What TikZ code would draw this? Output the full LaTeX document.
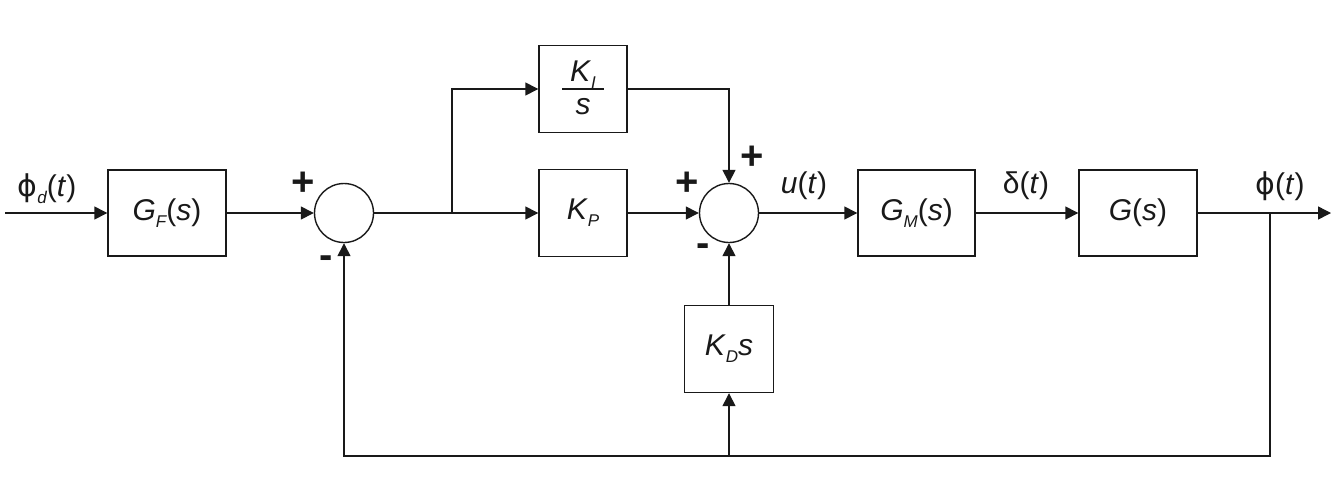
\documentclass[tikz,border=0pt]{standalone}
\usepackage{fontspec}
\setmainfont{Liberation Sans}
\newfontfamily\dejavu{DejaVu Sans}
\usetikzlibrary{arrows.meta}
\newcommand{\mysub}[1]{\raisebox{-7pt}{\fontsize{17}{17}\selectfont\itshape #1}}
\newcommand{\vphi}{{\dejavu ϕ}}
\tikzset{
  x=1pt, y=-1pt,
  every path/.style={line width=1.4pt, color=black!90},
  arr/.style={-{Triangle[length=13pt,width=13pt]}},
  blk/.style={draw, line width=1.4pt, rectangle, inner sep=0pt, font=\fontsize{30}{33}\selectfont},
  sumj/.style={draw, line width=1.4pt, circle, minimum size=59pt, inner sep=0pt},
  lbl/.style={font=\fontsize{30}{33}\selectfont, inner sep=0pt},
  sgn/.style={font=\fontsize{40}{40}\selectfont\bfseries, inner sep=0pt},
}
\begin{document}
\begin{tikzpicture}
\useasboundingbox (0,0) rectangle (1335,477);
% blocks
\node[blk, minimum width=118pt, minimum height=86pt] (GF) at (167,213) {\textit{G}\mysub{F}(\textit{s})};
\node[blk, minimum width=88pt, minimum height=87pt] (KI) at (583,89) {};
\node[blk, minimum width=88pt, minimum height=87pt] (KP) at (583,213) {\textit{K}\mysub{P}};
\node[blk, minimum width=117pt, minimum height=86pt] (GM) at (916.5,213) {\textit{G}\mysub{M}(\textit{s})};
\node[blk, minimum width=118pt, minimum height=86pt] (G) at (1138,213) {\textit{G}(\textit{s})};
\node[blk, minimum width=89pt, minimum height=87pt] (KD) at (729,349) {\textit{K}\mysub{D}\textit{s}};
\node[sumj] (S1) at (344,213) {};
\node[sumj] (S2) at (729,213) {};
% K_I / s fraction
\node[lbl, anchor=base] (KInum) at (583,81) {\textit{K}\mysub{I}};
\node[lbl, anchor=base] (KIden) at (583,114) {\textit{s}};
\draw[line width=1.2pt] (562,89) -- (604,89);
% coordinates
\coordinate (in) at (5,213);
\coordinate (j1) at (452,213);
\coordinate (tap) at (1270,213);
\coordinate (out) at (1331,213);
\coordinate (bot) at (1270,456);
\coordinate (bkd) at (729,456);
% connectors
\draw[arr] (in) -- (GF);
\draw[arr] (GF) -- (S1);
\draw (S1) -- (j1);
\draw[arr] (j1) -- (KP);
\draw[arr] (j1) |- (KI);
\draw[arr] (KI) -| (S2);
\draw[arr] (KP) -- (S2);
\draw[arr] (S2) -- (GM);
\draw[arr] (GM) -- (G);
\draw[arr] (G) -- (out);
\draw[arr] (tap) -- (bot) -| (S1);
\draw[arr] (bkd) -- (KD);
\draw[arr] (KD) -- (S2);
% labels
\node[lbl] (phid) at (47,189) {\vphi\mysub{d}(\textit{t})};
\node[lbl] (ut) at (804,186) {\textit{u}(\textit{t})};
\node[lbl] (dt) at (1026,186) {δ(\textit{t})};
\node[lbl] (pt) at (1280,186) {\vphi(\textit{t})};
% signs
\node[sgn] (p1) at (303,184) {+};
\node[sgn] (m1) at (326,262) {-};
\node[sgn] (p2) at (687,184) {+};
\node[sgn] (p3) at (752,158) {+};
\node[sgn] (m2) at (703,250) {-};
\end{tikzpicture}
\end{document}
